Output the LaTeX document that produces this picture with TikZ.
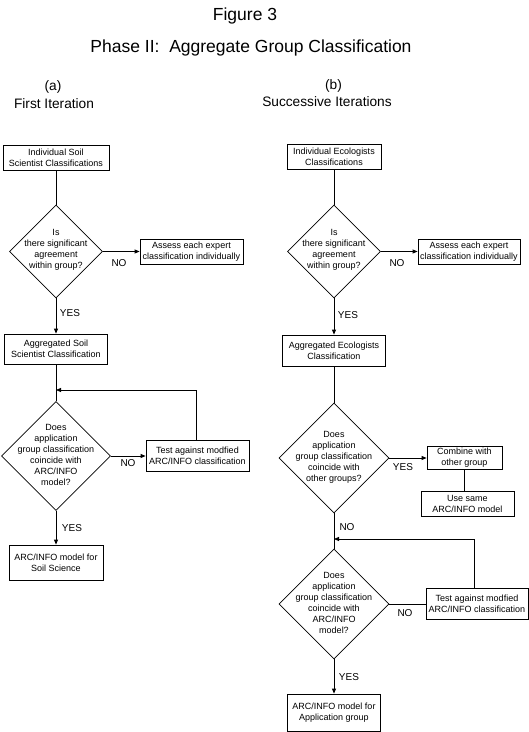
\documentclass[tikz,border=0pt]{standalone}
\usepackage{fontspec}
\setmainfont{Liberation Sans}
\usetikzlibrary{shapes.geometric,arrows.meta}
\begin{document}
\begin{tikzpicture}[x=1pt,y=-1pt,
  box/.style={draw, line width=0.8pt, inner sep=0pt, align=center, font=\fontsize{9}{11}\selectfont},
  dia/.style={draw, diamond, line width=0.8pt, inner sep=0pt, minimum width=#1, minimum height=#1},
  dtext/.style={align=center, font=\fontsize{9}{11}\selectfont, inner sep=0pt},
  lab/.style={font=\fontsize{10}{12}\selectfont, inner sep=0pt},
  ttl/.style={font=\fontsize{17.5}{21}\selectfont, inner sep=0pt},
  sub/.style={font=\fontsize{13.7}{16}\selectfont, inner sep=0pt},
  conn/.style={line width=0.8pt},
  arr/.style={line width=0.8pt, -{Triangle[length=5pt,width=4pt]}}]
\useasboundingbox (0,0) rectangle (529,732);

% titles
\node[ttl] (t1) at (245,16) {Figure 3};
\node[ttl] (t2) at (251,48) {Phase II:\ \ Aggregate Group Classification};
\node[sub] (ta) at (53,87) {(a)};
\node[sub] (tai) at (54,104) {First Iteration};
\node[sub] (tb) at (333.5,86) {(b)};
\node[sub] (tbi) at (327,102) {Successive Iterations};

% left column
\node[box, minimum width=106pt, minimum height=25pt] (L1) at (56,157.5) {Individual Soil\\Scientist Classifications};
\node[dia=93pt] (LD1) at (56,251.5) {};
\node[dtext] (LD1t) at (56,250) {Is\\there significant\\agreement\\within group?};
\node[box, minimum width=103pt, minimum height=25pt] (LA) at (191.5,251.5) {Assess each expert\\classification individually};
\node[box, minimum width=103pt, minimum height=30pt] (L2) at (56,349) {Aggregated Soil\\Scientist Classification};
\node[dia=109pt] (LD2) at (56,456) {};
\node[dtext] (LD2t) at (56,455) {Does\\application\\group classification\\coincide with\\ARC/INFO\\model?};
\node[box, minimum width=103pt, minimum height=31pt] (LT) at (197.5,456) {Test against modfied\\ARC/INFO classification};
\node[box, minimum width=94pt, minimum height=35pt] (L3) at (56,562.5) {ARC/INFO model for\\Soil Science};
\coordinate (LJ) at (56,390);

\draw[conn] (L1) -- (LD1);
\draw[arr] (LD1.east) -- (LA.west);
\draw[arr] (LD1.south) -- (L2.north);
\draw[conn] (L2.south) -- (LD2.north);
\draw[arr] (LD2.east) -- (LT.west);
\draw[arr] (LD2.south) -- (L3.north);
\draw[arr] ([xshift=-1.5pt]LT.north) |- (LJ);

\node[lab] (n1) at (119,263) {NO};
\node[lab] (y1) at (70,313) {YES};
\node[lab] (n2) at (128,463) {NO};
\node[lab] (y2) at (72,528) {YES};

% right column
\node[box, minimum width=94pt, minimum height=25pt] (R1) at (334,156.5) {Individual Ecologists\\Classifications};
\node[dia=93pt] (RD1) at (334,251.5) {};
\node[dtext] (RD1t) at (334,250) {Is\\there significant\\agreement\\within group?};
\node[box, minimum width=102pt, minimum height=25pt] (RA) at (469,251.5) {Assess each expert\\classification individually};
\node[box, minimum width=103pt, minimum height=31pt] (R2) at (334,350.5) {Aggregated Ecologists\\Classification};
\node[dia=110pt] (RD2) at (334,458) {};
\node[dtext] (RD2t) at (334,457) {Does\\application\\group classification\\coincide with\\other groups?};
\node[box, minimum width=75pt, minimum height=23pt] (RC) at (464.5,458) {Combine with\\other group};
\node[box, minimum width=93pt, minimum height=25pt] (RU) at (467.5,503.5) {Use same\\ARC/INFO model};
\node[dia=110pt] (RD3) at (334,604) {};
\node[dtext] (RD3t) at (334,602.5) {Does\\application\\group classification\\coincide with\\ARC/INFO\\model?};
\node[box, minimum width=102pt, minimum height=31pt] (RT) at (477,604) {Test against modfied\\ARC/INFO classification};
\node[box, minimum width=93pt, minimum height=37pt] (R3) at (334,712.5) {ARC/INFO model for\\Application group};
\coordinate (RJ) at (334,539);

\draw[conn] (R1) -- (RD1);
\draw[arr] (RD1.east) -- (RA.west);
\draw[arr] (RD1.south) -- (R2.north);
\draw[conn] (R2.south) -- (RD2.north);
\draw[arr] (RD2.east) -- (RC.west);
\draw[conn] ([xshift=-0.5pt]RC.south) -- ([xshift=-0.5pt]RC.south |- RU.north);
\draw[conn] (RD2.south) -- (RD3.north);
\draw[conn] (RD3.east) -- (RT.west);
\draw[arr] (RD3.south) -- (R3.north);
\draw[arr] ([xshift=-3pt]RT.north) |- (RJ);

\node[lab] (n3) at (397,263) {NO};
\node[lab] (y3) at (348,315) {YES};
\node[lab] (y4) at (403,467) {YES};
\node[lab] (n4) at (347,527) {NO};
\node[lab] (n5) at (405,613) {NO};
\node[lab] (y5) at (349,677) {YES};
\end{tikzpicture}
\end{document}
